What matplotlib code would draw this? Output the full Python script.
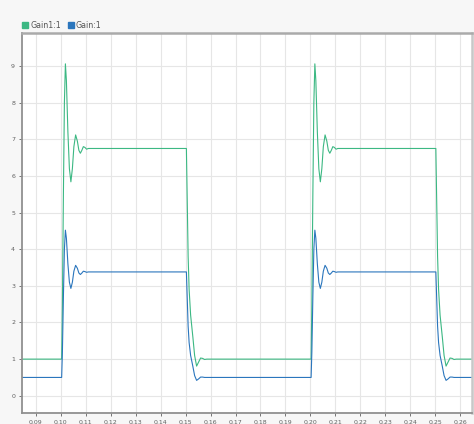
import numpy as np
import matplotlib
matplotlib.use('Agg')
import matplotlib.pyplot as plt
from matplotlib.lines import Line2D

# signal samples (time in s)
t_green = [0.0844, 0.1003, 0.1006, 0.1010, 0.1014, 0.1018, 0.1022, 0.1028, 0.1034, 0.1040,
           0.1046, 0.1052, 0.1059, 0.1066, 0.1072, 0.1078, 0.1084, 0.1090, 0.1096, 0.1103,
           0.1110, 0.1503, 0.1506, 0.1510, 0.1514, 0.1520, 0.1529, 0.1536, 0.1544, 0.1552,
           0.1560, 0.1568, 0.1576, 0.1585, 0.2003, 0.2006, 0.2010, 0.2014, 0.2018, 0.2022,
           0.2028, 0.2034, 0.2040, 0.2046, 0.2052, 0.2059, 0.2066, 0.2072, 0.2078, 0.2084,
           0.2090, 0.2096, 0.2103, 0.2110, 0.2503, 0.2506, 0.2510, 0.2514, 0.2520, 0.2529,
           0.2536, 0.2544, 0.2552, 0.2560, 0.2568, 0.2576, 0.2585, 0.2650]
v_green = [1.0, 1.0, 2.5, 5.5, 8.0, 9.06, 8.6, 7.2, 6.2, 5.84,
           6.2, 6.8, 7.12, 6.95, 6.70, 6.62, 6.70, 6.80, 6.78, 6.73,
           6.75, 6.75, 5.5, 3.8, 2.9, 2.2, 1.6, 1.1, 0.81, 0.92,
           1.03, 1.02, 0.99, 1.0, 1.0, 2.5, 5.5, 8.0, 9.06, 8.6,
           7.2, 6.2, 5.84, 6.2, 6.8, 7.12, 6.95, 6.70, 6.62, 6.70,
           6.80, 6.78, 6.73, 6.75, 6.75, 5.5, 3.8, 2.9, 2.2, 1.6,
           1.1, 0.81, 0.92, 1.03, 1.02, 0.99, 1.0, 1.0]

t_blue = t_green
v_blue = [0.5, 0.5, 1.2, 2.7, 4.0, 4.52, 4.3, 3.6, 3.1, 2.93,
          3.1, 3.4, 3.56, 3.48, 3.35, 3.31, 3.35, 3.40, 3.39, 3.37,
          3.38, 3.38, 2.75, 1.9, 1.45, 1.1, 0.8, 0.55, 0.42, 0.46,
          0.51, 0.51, 0.50, 0.5, 0.5, 1.2, 2.7, 4.0, 4.52, 4.3,
          3.6, 3.1, 2.93, 3.1, 3.4, 3.56, 3.48, 3.35, 3.31, 3.35,
          3.40, 3.39, 3.37, 3.38, 3.38, 2.75, 1.9, 1.45, 1.1, 0.8,
          0.55, 0.42, 0.46, 0.51, 0.51, 0.50, 0.5, 0.5]

x_ticks = [0.09, 0.10, 0.11, 0.12, 0.13, 0.14, 0.15, 0.16, 0.17, 0.18,
           0.19, 0.20, 0.21, 0.22, 0.23, 0.24, 0.25, 0.26]
y_ticks = [0, 1, 2, 3, 4, 5, 6, 7, 8, 9]

green = '#3cb883'
blue = '#2b76bd'

fig = plt.figure(figsize=(4.74, 4.24), dpi=100, facecolor='#f7f7f7')
ax = fig.add_axes([0.0464, 0.026, 0.9494, 0.896])
ax.set_facecolor('white')

ax.plot(t_green, v_green, color=green, lw=0.8)
ax.plot(t_blue, v_blue, color=blue, lw=0.8)

ax.set_xlim(0.0844, 0.2648)
ax.set_ylim(-0.47, 9.9)
ax.set_xticks(x_ticks)
ax.set_xticklabels(['%.2f' % x for x in x_ticks])
ax.set_yticks(y_ticks)
ax.grid(True, color='#e6e6e6', lw=0.8)
ax.set_axisbelow(True)
ax.tick_params(labelsize=4.5, colors='#606060', length=2, width=0.6, pad=3)

for side in ['left', 'bottom']:
    ax.spines[side].set_color('#909090')
    ax.spines[side].set_linewidth(1.3)
ax.spines['top'].set_color('#aaaaaa')
ax.spines['top'].set_linewidth(1.8)
ax.spines['right'].set_color('#c8c8c8')
ax.spines['right'].set_linewidth(1.8)

handles = [Line2D([], [], marker='s', ls='', color=green, markersize=3.8),
           Line2D([], [], marker='s', ls='', color=blue, markersize=3.8)]
ax.legend(handles, ['Gain1:1', 'Gain:1'], loc='lower left', bbox_to_anchor=(-0.012, 0.995),
          ncol=2, frameon=False, fontsize=5.7, handletextpad=0.1, columnspacing=0.8,
          borderaxespad=0.2, handlelength=1.0, labelcolor='#555555')

fig.savefig('out.png', dpi=100, facecolor=fig.get_facecolor())
